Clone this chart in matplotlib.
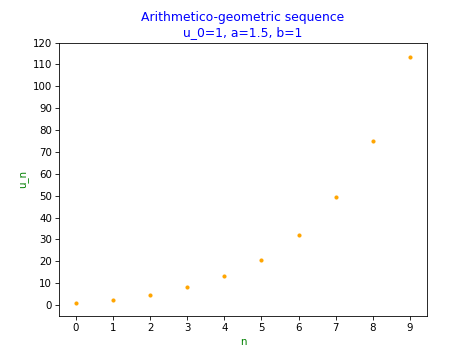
import matplotlib
matplotlib.use("Agg")
import matplotlib.pyplot as plt

n = [0, 1, 2, 3, 4, 5, 6, 7, 8, 9]
u_n = [1, 2.5, 4.75, 8.125, 13.19, 20.78, 32.17, 49.26, 74.89, 113.33]

fig = plt.figure(figsize=(474 / 74, 355 / 74), dpi=74)
plt.plot(n, u_n, '.', color='orange')
plt.title('Arithmetico-geometric sequence\nu_0=1, a=1.5, b=1', color='blue')
plt.xlabel('n', color='green')
plt.ylabel('u_n', color='green')
plt.xticks(n)
plt.yticks(range(0, 121, 10))
plt.ylim(-5, 120)
plt.savefig('out.png', dpi=74)
